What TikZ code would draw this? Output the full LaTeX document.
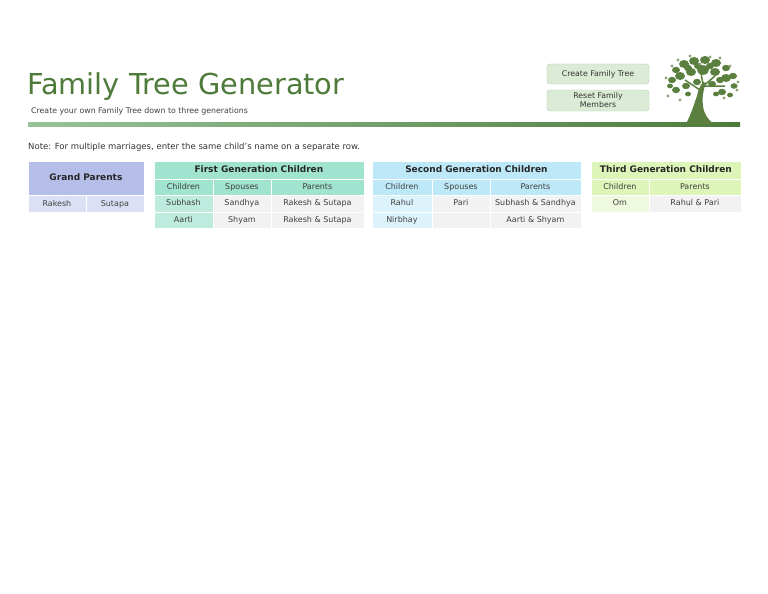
\documentclass[tikz,border=0pt]{standalone}
\usepackage{fontspec}
\setmainfont{DejaVu Sans}
\begin{document}
\begin{tikzpicture}[x=1pt,y=-1pt,
  cell/.style={draw=white,line width=0.8pt,inner sep=0pt,font=\fontsize{8}{9}\selectfont,text=black!75,text height=6pt,text depth=1.8pt},
  hdr/.style={cell,font=\fontsize{9}{10}\selectfont\bfseries,text=black!85},
  btn/.style={draw=green!35!black!30,fill=btnfill,rounded corners=3pt,inner sep=0pt,align=center,font=\fontsize{7.8}{9}\selectfont,text=black!80},
  leaf/.style={fill=treegreen,draw=none}]
\definecolor{titlegreen}{HTML}{4E7A3A}
\definecolor{treegreen}{HTML}{5A7F3E}
\definecolor{btnfill}{HTML}{DCEBD5}
\definecolor{gph}{HTML}{B4BEE8}\definecolor{gpc}{HTML}{DCE0F5}
\definecolor{fgh}{HTML}{A0E3CF}\definecolor{fgc}{HTML}{BDEBDD}
\definecolor{sgh}{HTML}{BDE8F8}\definecolor{sgc}{HTML}{DDF3FB}
\definecolor{tgh}{HTML}{DDF5B8}\definecolor{tgc}{HTML}{EEF9DD}
\definecolor{gry}{HTML}{F2F2F2}
\useasboundingbox[fill=white] (0,0) rectangle (768,594);
\node[anchor=base west,inner sep=0pt,text=titlegreen,font=\fontsize{28.8}{32}\selectfont] (title) at (27,94) {Family Tree Generator};
\node[anchor=base west,inner sep=0pt,text=black!75,font=\fontsize{7.8}{8}\selectfont] (sub) at (31,113) {Create your own Family Tree down to three generations};
\shade[left color=green!40!black!40!white,right color=titlegreen] (28,122.5) rectangle (740,126);
\node[anchor=base west,inner sep=0pt,text=black!80,font=\fontsize{8.5}{9}\selectfont] (note) at (28,149) {Note: For multiple marriages, enter the same child's name on a separate row.};
\node[btn,minimum width=102pt,minimum height=20pt] (b1) at (598,74) {Create Family Tree};
\node[btn,minimum width=102pt,minimum height=21pt] (b2) at (598,100.5) {Reset Family\\Members};
% tree
\fill[treegreen] (686,124) .. controls (692,112) and (694,104) .. (697,96) .. controls (698,90) and (700,86) .. (703,82) -- (706,83) .. controls (703,90) and (702,98) .. (703,106) .. controls (704,114) and (708,120) .. (714,124) -- cycle;
\draw[treegreen,line width=1.5pt] (700,90) -- (685,80) (701,88) -- (715,76) (703,84) -- (700,68) (704,86) -- (725,86);
\foreach \x/\y/\r in {676/70/4,684/64/5,694/61/5,705/60/5,716/63/5,726/68/4,733/76/4,672/80/4,680/76/5,691/72/5,703/70/6,715/72/5,726/78/5,734/86/3.5,676/90/4,686/86/4,697/82/4,712/84/4,722/92/4,730/95/3,670/86/3,688/94/3,716/94/3,698/66/4,710/66/4,688/68/4,720/80/4}
  \fill[treegreen] (\x,\y) ellipse ({\r pt} and {0.8*\r pt});
\foreach \x/\y in {672/66,690/56,710/57,730/66,738/82,668/96,700/64,724/98,680/100,678/60,720/58,737/90,666/78}
  \fill[treegreen!70] (\x,\y) circle (1.6pt);
% grand parents
\node[hdr,fill=gph,minimum width=116pt,minimum height=34pt,anchor=north west] (gp) at (27.5,160.5) {Grand Parents};
\node[cell,fill=gpc,minimum width=58pt,minimum height=17pt,anchor=north west] (gp1) at (27.5,195) {Rakesh};
\node[cell,fill=gpc,minimum width=58pt,minimum height=17pt,anchor=north west] (gp2) at (85.5,195) {Sutapa};
% first gen
\node[hdr,fill=fgh,minimum width=210pt,minimum height=18pt,anchor=north west] (fg) at (153.5,160.5) {First Generation Children};
\foreach \n/\x/\w/\t in {a/153.5/59/Children,b/212.5/58/Spouses,c/270.5/93/Parents}
  \node[cell,fill=fgh,minimum width=\w pt,minimum height=16.5pt,anchor=north west] (fg\n) at (\x,178.5) {\t};
\foreach \n/\y/\ca/\cb/\cc in {1/195/Subhash/Sandhya/Rakesh \& Sutapa,2/211.5/Aarti/Shyam/Rakesh \& Sutapa}{
  \node[cell,fill=fgc,minimum width=59pt,minimum height=16.5pt,anchor=north west] (fa\n) at (153.5,\y) {\ca};
  \node[cell,fill=gry,minimum width=58pt,minimum height=16.5pt,anchor=north west] (fb\n) at (212.5,\y) {\cb};
  \node[cell,fill=gry,minimum width=93pt,minimum height=16.5pt,anchor=north west] (fc\n) at (270.5,\y) {\cc};}
% second gen
\node[hdr,fill=sgh,minimum width=209pt,minimum height=18pt,anchor=north west] (sg) at (371.5,160.5) {Second Generation Children};
\foreach \n/\x/\w/\t in {a/371.5/60/Children,b/431.5/58/Spouses,c/489.5/91/Parents}
  \node[cell,fill=sgh,minimum width=\w pt,minimum height=16.5pt,anchor=north west] (sg\n) at (\x,178.5) {\t};
\foreach \n/\y/\ca/\cb/\cc in {1/195/Rahul/Pari/Subhash \& Sandhya,2/211.5/Nirbhay//Aarti \& Shyam}{
  \node[cell,fill=sgc,minimum width=60pt,minimum height=16.5pt,anchor=north west] (sa\n) at (371.5,\y) {\ca};
  \node[cell,fill=gry,minimum width=58pt,minimum height=16.5pt,anchor=north west] (sb\n) at (431.5,\y) {\cb};
  \node[cell,fill=gry,minimum width=91pt,minimum height=16.5pt,anchor=north west] (sc\n) at (489.5,\y) {\cc};}
% third gen
\node[hdr,fill=tgh,minimum width=150pt,minimum height=18pt,anchor=north west] (tg) at (590.5,160.5) {Third Generation Children};
\node[cell,fill=tgh,minimum width=58pt,minimum height=16.5pt,anchor=north west] (tga) at (590.5,178.5) {Children};
\node[cell,fill=tgh,minimum width=92pt,minimum height=16.5pt,anchor=north west] (tgb) at (648.5,178.5) {Parents};
\node[cell,fill=tgc,minimum width=58pt,minimum height=16.5pt,anchor=north west] (ta1) at (590.5,195) {Om};
\node[cell,fill=gry,minimum width=92pt,minimum height=16.5pt,anchor=north west] (tb1) at (648.5,195) {Rahul \& Pari};
\end{tikzpicture}
\end{document}
